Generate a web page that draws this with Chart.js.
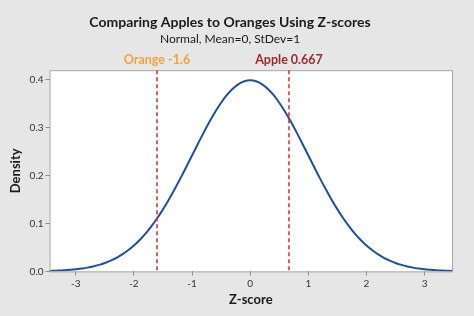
<!DOCTYPE html>
<html>
<head>
<meta charset="utf-8">
<script src="https://cdn.jsdelivr.net/npm/chart.js@4/dist/chart.umd.min.js"></script>
<style>
  html, body { margin: 0; padding: 0; background: #e6e6e6; }
  #wrap { width: 474px; height: 316px; position: relative; }
</style>
</head>
<body>
<div id="wrap"><canvas id="chart"></canvas></div>
<script>
// Z values along the curve and the density
const zValues = [-3.5,-3.4,-3.3,-3.2,-3.1,-3.0,-2.9,-2.8,-2.7,-2.6,-2.5,-2.4,-2.3,-2.2,-2.1,-2.0,
  -1.9,-1.8,-1.7,-1.6,-1.5,-1.4,-1.3,-1.2,-1.1,-1.0,-0.9,-0.8,-0.7,-0.6,-0.5,-0.4,-0.3,-0.2,-0.1,
  0.0,0.1,0.2,0.3,0.4,0.5,0.6,0.7,0.8,0.9,1.0,1.1,1.2,1.3,1.4,1.5,1.6,1.7,1.8,1.9,2.0,
  2.1,2.2,2.3,2.4,2.5,2.6,2.7,2.8,2.9,3.0,3.1,3.2,3.3,3.4,3.5];
const densityValues = [0.0009,0.0012,0.0017,0.0024,0.0033,0.0044,0.0060,0.0079,0.0104,0.0136,0.0175,0.0224,0.0283,0.0355,0.0440,0.0540,
  0.0656,0.0790,0.0940,0.1109,0.1295,0.1497,0.1714,0.1942,0.2179,0.2420,0.2661,0.2897,0.3123,0.3332,0.3521,0.3683,0.3814,0.3910,0.3970,
  0.3989,0.3970,0.3910,0.3814,0.3683,0.3521,0.3332,0.3123,0.2897,0.2661,0.2420,0.2179,0.1942,0.1714,0.1497,0.1295,0.1109,0.0940,0.0790,0.0656,0.0540,
  0.0440,0.0355,0.0283,0.0224,0.0175,0.0136,0.0104,0.0079,0.0060,0.0044,0.0033,0.0024,0.0017,0.0012,0.0009];

// Reference lines
const markerNames = ['Orange -1.6', 'Apple 0.667'];
const markerValues = [-1.6, 0.667];
const markerColors = ['#eea33f', '#9c2830'];

const fontFamily = 'Lato, "Open Sans", sans-serif';

// box round the plot + dashed markers with labels above
const markerPlugin = {
    id: 'markers',
    afterDatasetsDraw(chart) {
        const ctx = chart.ctx;
        const area = chart.chartArea;
        const xs = chart.scales.x;

        ctx.save();
        ctx.strokeStyle = '#a6a6a6';
        ctx.lineWidth = 1;
        ctx.strokeRect(area.left + 0.5, area.top + 0.5, area.right - area.left, area.bottom - area.top);

        markerValues.forEach((v, i) => {
            const px = Math.round(xs.getPixelForValue(v));
            ctx.strokeStyle = '#d8363a';
            ctx.lineWidth = 1.6;
            ctx.setLineDash([4, 3]);
            ctx.beginPath();
            ctx.moveTo(px, area.top);
            ctx.lineTo(px, area.bottom);
            ctx.stroke();
            ctx.setLineDash([]);

            ctx.fillStyle = markerColors[i];
            ctx.font = 'bold 12.5px ' + fontFamily;
            ctx.textAlign = 'center';
            ctx.textBaseline = 'middle';
            ctx.fillText(markerNames[i], px, area.top - 10);
        });
        ctx.restore();
    }
};

const bgPlugin = {
    id: 'bg',
    beforeDraw(chart) {
        const ctx = chart.ctx;
        const area = chart.chartArea;
        ctx.save();
        ctx.fillStyle = '#e6e6e6';
        ctx.fillRect(0, 0, chart.width, chart.height);
        ctx.fillStyle = '#ffffff';
        ctx.fillRect(area.left, area.top, area.right - area.left, area.bottom - area.top);
        ctx.restore();
    }
};

new Chart(document.getElementById('chart'), {
    type: 'line',
    data: {
        datasets: [{
            data: zValues.map((z, i) => ({ x: z, y: densityValues[i] })),
            borderColor: '#1f4f9e',
            borderWidth: 2,
            pointRadius: 0,
            tension: 0.4,
            fill: false
        }]
    },
    options: {
        responsive: true,
        maintainAspectRatio: false,
        animation: false,
        layout: { padding: { left: 8, right: 22, top: 0, bottom: 8 } },
        plugins: {
            legend: { display: false },
            tooltip: { enabled: false },
            title: {
                display: true,
                text: 'Comparing Apples to Oranges Using Z-scores',
                color: '#1a1a1a',
                font: { family: fontFamily, size: 14, weight: 'bold' },
                padding: { top: 14, bottom: 1 }
            },
            subtitle: {
                display: true,
                text: 'Normal, Mean=0, StDev=1',
                color: '#1a1a1a',
                font: { family: fontFamily, size: 12 },
                padding: { top: 0, bottom: 24 }
            }
        },
        scales: {
            x: {
                type: 'linear',
                min: -3.45,
                max: 3.47,
                afterBuildTicks(axis) {
                    axis.ticks = [-3, -2, -1, 0, 1, 2, 3].map(v => ({ value: v }));
                },
                grid: { drawOnChartArea: false, tickLength: 4, color: '#8c8c8c' },
                border: { display: false },
                ticks: { color: '#333', font: { family: fontFamily, size: 10 }, padding: 2 },
                title: {
                    display: true,
                    text: 'Z-score',
                    color: '#1a1a1a',
                    font: { family: fontFamily, size: 13, weight: 'bold' },
                    padding: { top: 1, bottom: 0 }
                }
            },
            y: {
                min: 0,
                max: 0.42,
                afterBuildTicks(axis) {
                    axis.ticks = [0, 0.1, 0.2, 0.3, 0.4].map(v => ({ value: v }));
                },
                grid: { drawOnChartArea: false, tickLength: 4, color: '#8c8c8c' },
                border: { display: false },
                ticks: {
                    color: '#333',
                    font: { family: fontFamily, size: 10 },
                    padding: 2,
                    callback: v => v.toFixed(1)
                },
                title: {
                    display: true,
                    text: 'Density',
                    color: '#1a1a1a',
                    font: { family: fontFamily, size: 13, weight: 'bold' },
                    padding: { top: 0, bottom: 4 }
                }
            }
        }
    },
    plugins: [bgPlugin, markerPlugin]
});
</script>
</body>
</html>
